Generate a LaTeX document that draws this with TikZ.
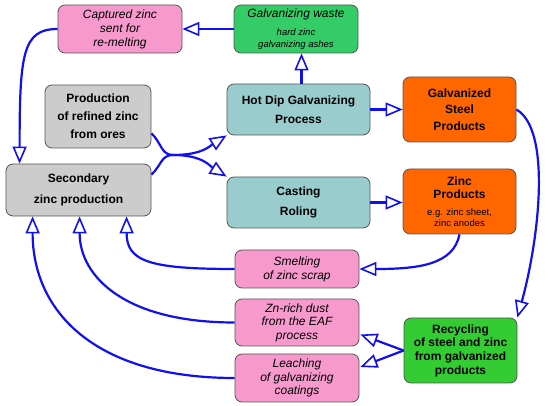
\documentclass[tikz,border=0pt]{standalone}
\usepackage{fontspec}
\setmainfont{Liberation Sans}
\usepackage{tikz}
\usetikzlibrary{arrows.meta,positioning,calc}
\definecolor{pinkfill}{HTML}{F799CC}
\definecolor{wastefill}{HTML}{33CC66}
\definecolor{recfill}{HTML}{33CC33}
\definecolor{greyfill}{HTML}{CCCCCC}
\definecolor{tealfill}{HTML}{99CCCC}
\definecolor{orangefill}{HTML}{FF6600}
\definecolor{boxline}{HTML}{555555}
\definecolor{flowblue}{HTML}{1010F0}
\newcommand{\notesize}{\fontsize{9.5}{10.5}\selectfont\mdseries}
\begin{document}
\begin{tikzpicture}[x=1pt,y=-1pt,
	box/.style={draw=boxline, line width=0.8pt, rounded corners=7pt, align=center, inner sep=0pt},
	pinkbox/.style={box, fill=pinkfill, font=\fontsize{12}{14}\selectfont\itshape},
	greybox/.style={box, fill=greyfill, font=\fontsize{12}{18}\selectfont\bfseries},
	tealbox/.style={box, fill=tealfill, font=\fontsize{12}{19.5}\selectfont\bfseries},
	orangebox/.style={box, fill=orangefill, font=\fontsize{12}{16.5}\selectfont\bfseries},
	flow/.style={draw=flowblue, line width=2.2pt, -{Triangle[open,length=17pt,width=14pt,line width=1.6pt]}}]
		\useasboundingbox (0,0) rectangle (550,406);

		\node (captured) at (120,29) [pinkbox, minimum width=124pt, minimum height=48pt] {Captured zinc\\sent for\\re-melting};
		\node (waste) at (296,29) [box, fill=wastefill, font=\fontsize{12}{14}\selectfont\itshape, minimum width=124pt, minimum height=48pt] {Galvanizing waste\\[4pt]\notesize hard zinc\\[-2.5pt]\notesize galvanizing ashes};
		\node (refined) at (98,116.5) [greybox, minimum width=106pt, minimum height=63pt] {Production\\of refined zinc\\from ores};
		\node (hotdip) at (298.5,109.5) [tealbox, minimum width=143pt, minimum height=51pt] {Hot Dip Galvanizing\\Process};
		\node (galvsteel) at (459.5,109.5) [orangebox, minimum width=113pt, minimum height=65pt] {Galvanized\\Steel\\Products};
		\node (secondary) at (78.5,190) [greybox, font=\fontsize{12}{21}\selectfont\bfseries, minimum width=145pt, minimum height=52pt] {Secondary\\zinc production};
		\node (casting) at (298.5,202.5) [tealbox, minimum width=143pt, minimum height=51pt] {Casting\\Roling};
		\node (zincprod) at (459.5,201.5) [orangebox, font=\fontsize{12}{13}\selectfont\bfseries, minimum width=113pt, minimum height=65pt] {Zinc\\Products\\[4pt]\notesize e.g. zinc sheet,\\[-2.5pt]\notesize zinc anodes};
		\node (smelting) at (297,269) [pinkbox, minimum width=124pt, minimum height=38pt] {Smelting\\of zinc scrap};
		\node (eafdust) at (297,322.5) [pinkbox, font=\fontsize{12}{13.5}\selectfont\itshape, minimum width=124pt, minimum height=47pt] {Zn-rich dust\\from the EAF\\process};
		\node (leaching) at (297,378) [pinkbox, font=\fontsize{12}{13.5}\selectfont\itshape, minimum width=124pt, minimum height=48pt] {Leaching\\of galvanizing\\coatings};
		\node (recycling) at (460.5,350.5) [box, fill=recfill, font=\fontsize{12}{13.7}\selectfont\bfseries, minimum width=113pt, minimum height=65pt] {Recycling\\of steel and zinc\\from galvanized\\products};

		\coordinate (fork) at (173,155);
		\coordinate (sec1) at ($(secondary.south west)+(27,0)$);
		\coordinate (sec2) at ($(secondary.south west)+(74,0)$);
		\coordinate (sec3) at ($(secondary.south west)+(121,0)$);

		\draw [flow] (waste.west) -- (captured.east);
		\draw [flow] (captured.west) .. controls +(-35,0) and +(0,-110) .. ($(secondary.north west)+(14,0)$);
		\draw [flow] ($(hotdip.north)+(3,0)$) -- ($(hotdip.north |- waste.south)+(3,0)$);
		\draw [flow] (hotdip.east) -- (hotdip.east -| galvsteel.west);
		\draw [flow] (casting.east) -- (casting.east -| zincprod.west);

		\draw [draw=flowblue, line width=2.2pt] ($(refined.south east)+(0,-15)$) .. controls +(10,9) and +(-12,0) .. (fork);
		\draw [draw=flowblue, line width=2.2pt] ($(secondary.north east)+(0,11)$) .. controls +(10,-9) and +(-12,0) .. (fork);
		\draw [flow] (fork) .. controls +(30,0) and +(-16,10) .. (hotdip.south west);
		\draw [flow] (fork) .. controls +(30,0) and +(-16,-10) .. (casting.north west);

		\draw [flow] (zincprod.south) .. controls +(-6,30) and +(60,0) .. (smelting.east);
		\draw [flow] (galvsteel.east) .. controls +(35,20) and +(22,-80) .. (recycling.north east);

		\draw [flow] (smelting.west) .. controls +(-85,0) and +(0,45) .. (sec3);
		\draw [flow] (eafdust.west) .. controls +(-110,0) and +(0,60) .. (sec2);
		\draw [flow] (leaching.west) .. controls +(-140,0) and +(0,95) .. (sec1);

		\draw [flow] (recycling.west) -- ($(eafdust.east)+(1,12)$);
		\draw [flow] (recycling.west) -- ($(leaching.east)+(1,-11)$);
	\end{tikzpicture}
\end{document}
